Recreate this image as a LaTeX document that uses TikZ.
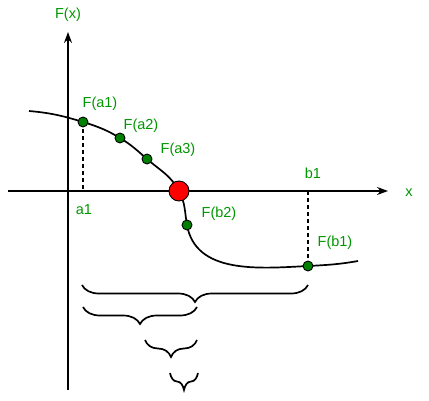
\documentclass[tikz,border=0pt]{standalone}
\usepackage{fontspec}
\setmainfont{Liberation Sans}
\usepackage{xcolor}
\usepackage{tikz}
\usetikzlibrary{arrows.meta,decorations.pathreplacing}

\definecolor{lblgreen}{RGB}{0,150,0}
\definecolor{ptgreen}{RGB}{0,128,0}

\tikzset{
  axis/.style={line width=1.6pt,-{Stealth[length=11pt,width=8pt]}},
  curve/.style={line width=1.7pt},
  gpt/.style={circle,draw=black,line width=0.9pt,fill=ptgreen,inner sep=0pt,minimum size=10pt},
  rpt/.style={circle,draw=black,line width=0.9pt,fill=red,inner sep=0pt,minimum size=20pt},
  lbl/.style={text=lblgreen,font=\fontsize{14.5}{17}\selectfont,inner sep=0pt},
  guide/.style={line width=1.4pt,dash pattern=on 4pt off 3pt},
  bracket/.style={line width=1.7pt,decorate,decoration={brace,mirror,amplitude=17pt}}
}

\begin{document}
\begin{tikzpicture}[x=1pt,y=1pt]
      \useasboundingbox (0,0) rectangle (429,400);

      % axes
      \coordinate (ybot) at (68,10);
      \coordinate (ytop) at (68,368);
      \coordinate (xleft) at (8,209);
      \coordinate (xright) at (388,209);
      \draw[axis] (ybot) -- (ytop);
      \draw[axis] (xleft) -- (xright);
      \node[lbl] (fxlbl) at (68,385) {F(x)};
      \node[lbl] (xlbl) at (409,207) {x};

      % points on the curve
      \coordinate (c0) at (29,289);
      \coordinate (A1) at (83,278);
      \coordinate (A2) at (120,262);
      \coordinate (A3) at (147,241);
      \coordinate (R) at (179,209);
      \coordinate (B2) at (187,175);
      \coordinate (B1) at (308,134);
      \coordinate (c1) at (358,139);

      % dashed guides
      \draw[guide] (A1) -- (A1 |- xleft);
      \draw[guide] (B1 |- xleft) -- (B1);

      \draw[curve] (c0) to[out=-5,in=163] (A1) to[out=-17,in=149] (A2)
        to[out=-31,in=139] (A3) to[out=-41,in=118] (R)
        to[out=-62,in=100] (B2) to[out=-80,in=183] (B1) to[out=3,in=190] (c1);

      \node[gpt] (pa1) at (A1) {};
      \node[gpt] (pa2) at (A2) {};
      \node[gpt] (pa3) at (A3) {};
      \node[gpt] (pb2) at (B2) {};
      \node[gpt] (pb1) at (B1) {};
      \node[rpt] (root) at (R) {};

      \node[lbl] (la1) at (100,296) {F(a1)};
      \node[lbl] (la2) at (141,274) {F(a2)};
      \node[lbl] (la3) at (178,250) {F(a3)};
      \node[lbl] (lb2) at (219,186) {F(b2)};
      \node[lbl] (lb1) at (335,157) {F(b1)};
      \node[lbl] (ta1) at (84,190) {a1};
      \node[lbl] (tb1) at (313,227) {b1};

      % shrinking intervals
      \draw[bracket] (82,115) -- (308,115);
      \draw[bracket] (83,93) -- (197,93);
      \draw[bracket] (145,60) -- (197,60);
      \draw[bracket] (170,27) -- (198,27);
\end{tikzpicture}
\end{document}
